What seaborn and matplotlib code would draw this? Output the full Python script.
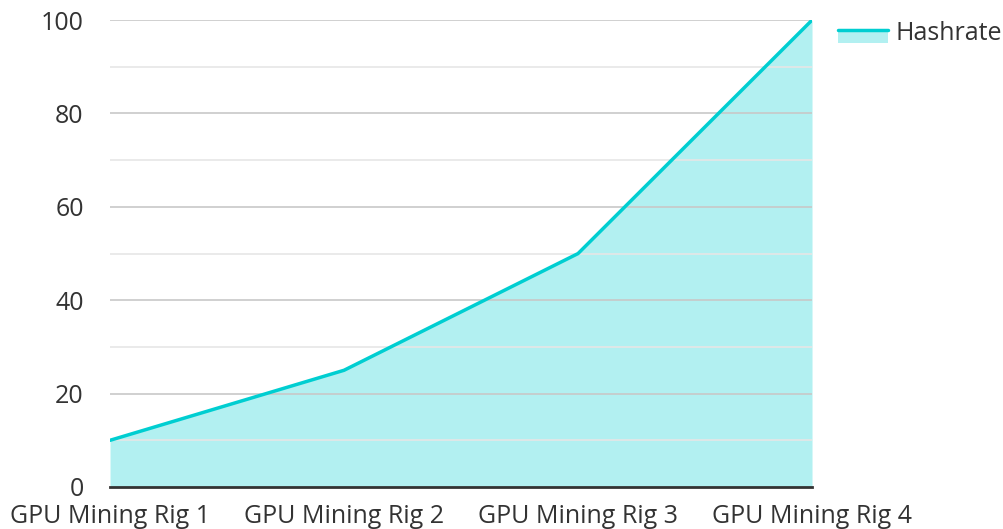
import numpy as np
import matplotlib
matplotlib.use("Agg")
import matplotlib.pyplot as plt
import seaborn as sns
import pandas as pd
from matplotlib.lines import Line2D
from matplotlib.patches import Rectangle
from matplotlib.legend_handler import HandlerBase

# Data
rigs = ["GPU Mining Rig 1", "GPU Mining Rig 2", "GPU Mining Rig 3", "GPU Mining Rig 4"]
hashrate = [10, 25, 50, 100]

sns.set_style("white")
plt.rcParams['font.family'] = ['Open Sans', 'DejaVu Sans']

line_color = "#00CED1"
text_color = "#333333"
fs = 18


# legend key: light area box with the line along its top edge
class AreaHandler(HandlerBase):
    def create_artists(self, legend, orig, xdescent, ydescent, width, height, fontsize, trans):
        top = height * 0.6
        bottom = -height * 0.25
        box = Rectangle((-xdescent, bottom - ydescent), width, top - bottom,
                        facecolor=line_color, alpha=0.3, lw=0, transform=trans)
        ln = Line2D([-xdescent, -xdescent + width], [top - ydescent] * 2,
                    color=line_color, lw=2.5, transform=trans)
        return [box, ln]


df = pd.DataFrame({"rig": np.arange(len(rigs)), "hashrate": hashrate})

fig = plt.figure(figsize=(10.04, 5.29), dpi=100)
ax = fig.add_axes([0.1096, 0.0794, 0.6992, 0.8826])

# gridlines
for v in range(10, 101, 10):
    ax.axhline(v, color="#c8c8c8" if v % 20 == 0 else "#e6e6e6", lw=1.2, zorder=3)

ax.fill_between(df["rig"], df["hashrate"], color=line_color, alpha=0.3, lw=0, zorder=2)
sns.lineplot(data=df, x="rig", y="hashrate", color=line_color, lw=2.5, ax=ax, zorder=4)

ax.set_xlim(0, 3)
ax.set_ylim(0, 100)
ax.set_xticks(range(len(rigs)))
ax.set_xticklabels(rigs)
ax.set_yticks(range(0, 101, 20))
ax.tick_params(axis="y", length=0, pad=19, labelsize=fs, labelcolor=text_color)
ax.tick_params(axis="x", length=0, pad=12, labelsize=fs, labelcolor=text_color)
ax.set_xlabel("")
ax.set_ylabel("")

for s in ["top", "right", "left"]:
    ax.spines[s].set_visible(False)
ax.spines["bottom"].set_color("#333333")
ax.spines["bottom"].set_linewidth(2)
ax.spines["bottom"].set_zorder(5)

leg = ax.legend([object()], ["Hashrate"], handler_map={object: AreaHandler()},
                loc="upper left", bbox_to_anchor=(1.037, 0.998),
                frameon=False, fontsize=fs, handlelength=2.0, handleheight=0.6,
                handletextpad=0.3, labelcolor=text_color, borderaxespad=0, borderpad=0)

fig.savefig("out.png", dpi=100)
